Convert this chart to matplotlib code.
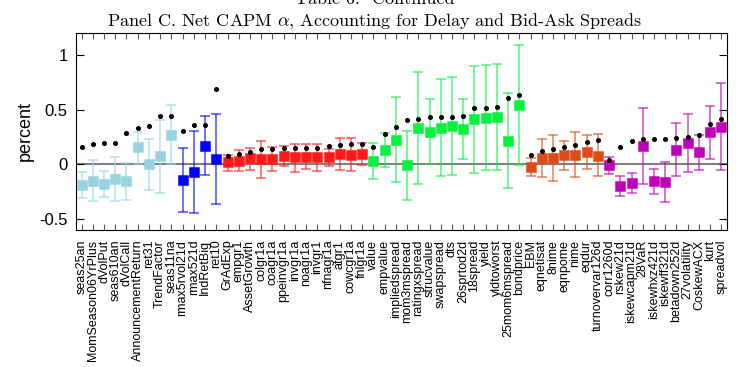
import numpy as np
import matplotlib
matplotlib.use('Agg')
import matplotlib.pyplot as plt
from matplotlib.colors import to_rgba

plt.rcParams['font.family'] = ['Liberation Sans', 'DejaVu Sans']
plt.rcParams['mathtext.fontset'] = 'cm'

# signal names, in plot order
labels = ['seas25an', 'MomSeason06YrPlus', 'dVolPut', 'seas610an', 'dVolCall',
          'AnnouncementReturn', 'ret31', 'TrendFactor', 'seas11na',
          'rmax5rvol21d', 'rmax521d', 'IndRetBig', 'ret10',
          'GrAdExp', 'empgr1', 'AssetGrowth', 'colgr1a', 'coagr1a', 'ppeinvgr1a',
          'invgr1a', 'noagr1a', 'invgr1', 'nfnagr1a', 'atgr1', 'cowcgr1a', 'fnlgr1a',
          'value', 'empvalue', 'impliedspread', 'mom3mspread', 'ratingxspread',
          'strucvalue', 'swapspread', 'dts', '26sprtod2d', '18spread', 'yield',
          'yldtoworst', '25mom6mspread', 'bondprice',
          'EBM', 'eqnetisat', '8nime', 'eqnpome', 'nime', 'eqdur', 'turnovervar126d',
          'corr1260d', 'rskew21d', 'iskewcapm21d', '28VaR', 'iskewhxz421d',
          'iskewff321d', 'betadown252d', '27volatility', 'CoskewACX', 'kurt', 'spreadvol']

# net alpha (squares)
net_alpha = [-0.186, -0.149, -0.180, -0.137, -0.155, 0.155, 0.000, 0.073, 0.271,
             -0.146, -0.070, 0.170, 0.052,
             0.018, 0.033, 0.058, 0.049, 0.049, 0.073, 0.064, 0.067, 0.064, 0.067,
             0.094, 0.088, 0.097,
             0.030, 0.131, 0.226, -0.009, 0.332, 0.299, 0.332, 0.351, 0.323, 0.411,
             0.427, 0.430, 0.217, 0.543,
             -0.021, 0.058, 0.058, 0.082, 0.088, 0.113, 0.079,
             -0.009, -0.198, -0.170, 0.167, -0.152, -0.161, 0.134, 0.195, 0.110,
             0.293, 0.341]

# confidence band
ci_hi = [-0.073, 0.037, -0.064, 0.067, 0.012, 0.292, 0.231, 0.402, 0.539,
         0.152, 0.305, 0.439, 0.463,
         0.085, 0.128, 0.152, 0.210, 0.158, 0.164, 0.189, 0.183, 0.183, 0.143,
         0.238, 0.244, 0.195,
         0.195, 0.284, 0.613, 0.305, 0.847, 0.597, 0.780, 0.793, 0.600, 0.899,
         0.908, 0.914, 0.655, 1.088,
         0.061, 0.235, 0.268, 0.213, 0.296, 0.268, 0.274,
         0.070, -0.104, -0.079, 0.512, -0.043, 0.021, 0.378, 0.463, 0.268,
         0.536, 0.741]
ci_lo = [-0.307, -0.335, -0.301, -0.338, -0.323, 0.006, -0.235, -0.262, 0.000,
         -0.439, -0.448, -0.098, -0.366,
         -0.058, -0.064, -0.049, -0.128, -0.061, -0.018, -0.067, -0.046, -0.061,
         -0.012, -0.049, -0.064, -0.003,
         -0.137, -0.021, -0.161, -0.323, -0.180, 0.000, -0.107, -0.094, 0.052,
         -0.079, -0.055, -0.055, -0.219, -0.003,
         -0.104, -0.113, -0.155, -0.052, -0.119, -0.040, -0.110,
         -0.085, -0.293, -0.265, -0.180, -0.271, -0.344, -0.107, -0.073, -0.052,
         0.046, -0.052]

# gross alpha (black dots)
gross = [0.155, 0.186, 0.195, 0.198, 0.287, 0.332, 0.354, 0.439, 0.442,
         0.302, 0.357, 0.360, 0.692,
         0.073, 0.097, 0.116, 0.140, 0.140, 0.146, 0.149, 0.152, 0.152, 0.164,
         0.180, 0.183, 0.189,
         0.161, 0.281, 0.338, 0.408, 0.411, 0.433, 0.436, 0.436, 0.442, 0.512,
         0.518, 0.521, 0.606, 0.634,
         0.088, 0.122, 0.143, 0.161, 0.177, 0.207, 0.225,
         0.040, 0.155, 0.216, 0.231, 0.234, 0.234, 0.244, 0.253, 0.265,
         0.366, 0.414]

group_sizes = [9, 4, 13, 14, 7, 11]
group_colors = ['#96d3df', '#0000ff', '#ff1a1a', '#0af040', '#dd4a1c', '#c000b8']

colors = []
for n, c in zip(group_sizes, group_colors):
    colors += [c] * n

x = np.arange(1, len(labels) + 1)

fig = plt.figure(figsize=(7.5, 3.67), dpi=100)
ax = fig.add_axes([0.1013, 0.3733, 0.868, 0.537])

ax.axhline(0, color='#808080', lw=1.5, zorder=1)

for i in range(len(labels)):
    c = colors[i]
    lo = net_alpha[i] - ci_lo[i]
    hi = ci_hi[i] - net_alpha[i]
    ax.errorbar(x[i], net_alpha[i], yerr=[[lo], [hi]], fmt='none',
                ecolor=to_rgba(c, 0.6), elinewidth=1.3, capsize=3.3,
                capthick=1.3, zorder=2)
    ax.plot(x[i], net_alpha[i], marker='s', ms=7.5, mfc=c,
            mec=to_rgba(c, 0.5), mew=0.8, ls='none', zorder=3)

ax.plot(x, gross, 'o', color='black', ms=2.6, zorder=4)

ax.set_xlim(0.5, 58.5)
ax.set_ylim(-0.6, 1.2)
ax.set_xticks(x)
ax.set_xticklabels(labels, rotation=90, fontsize=9)
ax.set_yticks([-0.5, 0, 0.5, 1])
ax.set_yticklabels(['-0.5', '0', '0.5', '1'], fontsize=12)
ax.tick_params(axis='x', direction='in', top=True, length=4, color='#555555', pad=7)
ax.tick_params(axis='y', direction='in', right=True, length=6, pad=6)
ax.set_ylabel('percent', fontsize=13, labelpad=4)

fig.text(0.5, 0.943, r'Panel C. Net CAPM $\alpha$, Accounting for Delay and Bid-Ask Spreads',
         family='cmr10', fontsize=13, ha='center', va='center')
fig.text(0.5, 0.99, 'Table 6:  Continued', family='cmr10', fontsize=13,
         ha='center', va='baseline')

fig.savefig('out.png', dpi=100)
